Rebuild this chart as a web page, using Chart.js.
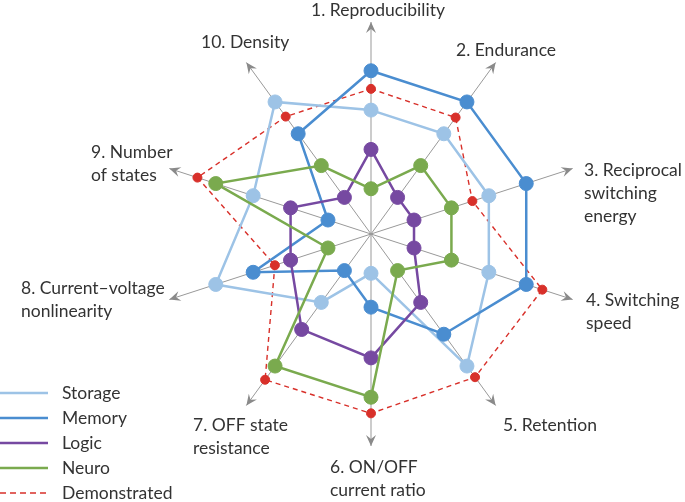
<!DOCTYPE html>
<html>
<head>
<meta charset="utf-8">
<script src="https://cdn.jsdelivr.net/npm/chart.js@4.4.1/dist/chart.umd.min.js"></script>
<style>
html, body { margin: 0; padding: 0; background: #fff; }
#wrap { width: 685px; height: 502px; }
</style>
</head>
<body>
<div id="wrap"><canvas id="canvas"></canvas></div>
<script>
// axis names, one array of lines per axis
const axisLabels = [
    ['1. Reproducibility'],
    ['2. Endurance'],
    ['3. Reciprocal', 'switching', 'energy'],
    ['4. Switching', 'speed'],
    ['5. Retention'],
    ['6. ON/OFF', 'current ratio'],
    ['7. OFF state', 'resistance'],
    ['8. Current\u2013voltage', 'nonlinearity'],
    ['9. Number', 'of states'],
    ['10. Density']
];

const storage      = [3, 3, 3, 3, 4, 0.85, 2, 4, 3, 4];
const memory       = [4, 4, 4, 4, 3, 1.71, 1, 3, 1, 3];
const logic        = [2, 1, 1, 1, 2, 3, 2.85, 2, 2, 1];
const neuro        = [1, 2, 2, 2, 1, 4, 4, 1, 4, 2];
const demonstrated = [3.54, 3.51, 2.56, 4.43, 4.35, 4.41, 4.43, 2.42, 4.49, 3.54];

const seriesNames = ['Storage', 'Memory', 'Logic', 'Neuro', 'Demonstrated'];
const colors = ['#9dc3e6', '#4a8dd0', '#7649a1', '#7aaa4e', '#d8302a'];

// where each axis label goes (left x / middle y of first line)
const labelPos = [
    { x: 378, y: 10, align: 'center' },
    { x: 456, y: 50, align: 'left' },
    { x: 584, y: 170, align: 'left' },
    { x: 586, y: 300, align: 'left' },
    { x: 503, y: 425, align: 'left' },
    { x: 330, y: 467, align: 'left' },
    { x: 193, y: 425, align: 'left' },
    { x: 21, y: 288, align: 'left' },
    { x: 91, y: 152, align: 'left' },
    { x: 201, y: 42, align: 'left' }
];

const FONT = '17.5px Lato';
const TEXT = '#333333';

const decor = {
    id: 'decor',
    beforeDatasetsDraw(chart) {
        const ctx = chart.ctx;
        const r = chart.scales.r;
        ctx.save();
        ctx.fillStyle = '#8a8a8a';
        for (let i = 0; i < axisLabels.length; i++) {
            const p = r.getPointPositionForValue(i, r.max);
            const a = r.getIndexAngle(i) - Math.PI / 2;
            const cx = Math.cos(a), cy = Math.sin(a);
            ctx.beginPath();
            ctx.moveTo(p.x, p.y);
            ctx.lineTo(p.x - 11 * cx - 5 * cy, p.y - 11 * cy + 5 * cx);
            ctx.lineTo(p.x - 7 * cx, p.y - 7 * cy);
            ctx.lineTo(p.x - 11 * cx + 5 * cy, p.y - 11 * cy - 5 * cx);
            ctx.closePath();
            ctx.fill();
        }
        ctx.restore();
    },
    afterDraw(chart) {
        const ctx = chart.ctx;
        ctx.save();
        ctx.font = FONT;
        ctx.fillStyle = TEXT;
        ctx.textBaseline = 'middle';
        for (let i = 0; i < axisLabels.length; i++) {
            ctx.textAlign = labelPos[i].align;
            axisLabels[i].forEach(function (line, j) {
                ctx.fillText(line, labelPos[i].x, labelPos[i].y + j * 23);
            });
        }
        // legend
        ctx.textAlign = 'left';
        for (let k = 0; k < seriesNames.length; k++) {
            const y = 393 + k * 25;
            ctx.strokeStyle = colors[k];
            ctx.lineWidth = k == 4 ? 1.6 : 2.6;
            ctx.setLineDash(k == 4 ? [6, 4] : []);
            ctx.beginPath();
            ctx.moveTo(0, y);
            ctx.lineTo(48, y);
            ctx.stroke();
            ctx.fillText(seriesNames[k], 62, y);
        }
        ctx.restore();
    }
};

function ds(label, data, color, order) {
    return {
        label: label,
        data: data,
        borderColor: color,
        backgroundColor: color,
        pointBackgroundColor: color,
        pointBorderColor: color,
        borderWidth: 2.5,
        pointRadius: 7,
        pointBorderWidth: 1,
        fill: false,
        order: order
    };
}

const datasets = [
    ds('Neuro', neuro, colors[3], 1),
    ds('Logic', logic, colors[2], 2),
    ds('Memory', memory, colors[1], 3),
    ds('Storage', storage, colors[0], 4),
    Object.assign(ds('Demonstrated', demonstrated, colors[4], 5), {
        borderWidth: 1.4, borderDash: [5, 4], pointRadius: 4.5
    })
];

const ctx = document.getElementById('canvas').getContext('2d');
const myChart = new Chart(ctx, {
    type: 'radar',
    data: {
        labels: axisLabels.map(function (l) { return l.join(' '); }),
        datasets: datasets
    },
    options: {
        responsive: true,
        maintainAspectRatio: false,
        animation: false,
        devicePixelRatio: 1,
        layout: { padding: { left: 159, right: 102, top: 22, bottom: 56 } },
        elements: { line: { tension: 0 } },
        plugins: {
            legend: { display: false },
            tooltip: { enabled: false }
        },
        scales: {
            r: {
                min: -0.15,
                max: 5.24,
                ticks: { display: false },
                grid: { display: false },
                pointLabels: { display: false },
                angleLines: { display: true, color: '#999999', lineWidth: 1 }
            }
        }
    },
    plugins: [decor]
});
</script>
</body>
</html>
